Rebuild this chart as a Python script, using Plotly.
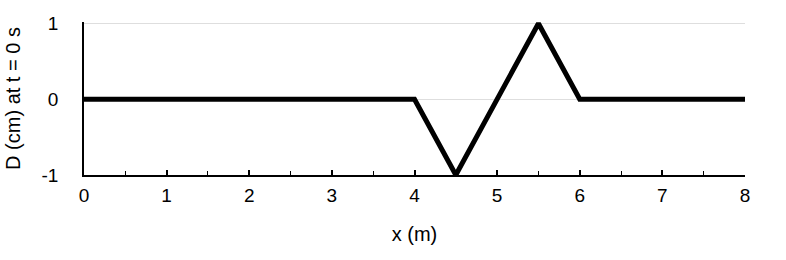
import plotly.graph_objects as go

x_m = [0, 4, 4.5, 5.5, 6, 8]
d_cm = [0, 0, -1, 1, 0, 0]
x_ticks = [0, 1, 2, 3, 4, 5, 6, 7, 8]
y_ticks = [-1, 0, 1]

fig = go.Figure()
fig.add_trace(go.Scatter(x=x_m, y=d_cm, mode="lines",
                         line=dict(color="black", width=5), cliponaxis=False))

tick_font = dict(family="Liberation Sans, Arial, sans-serif", size=19, color="black")
title_font = dict(family="Liberation Sans, Arial, sans-serif", size=20, color="black")
fig.update_layout(
    width=786, height=260,
    margin=dict(l=82, r=41, t=22, b=85),
    plot_bgcolor="white", paper_bgcolor="white",
    showlegend=False,
    font=tick_font,
)
fig.update_xaxes(
    range=[0, 8], tickvals=x_ticks, ticktext=[str(v) for v in x_ticks],
    tickfont=tick_font,
    showline=True, linecolor="black", linewidth=1.5,
    ticks="inside", ticklen=5, tickwidth=1.5, tickcolor="black",
    minor=dict(ticks="inside", ticklen=4, tickwidth=1.2, tickcolor="black", dtick=0.5, tick0=0),
    showgrid=False, zeroline=False,
    ticklabelstandoff=2,
    title=dict(text="x (m)", standoff=22, font=title_font),
)
fig.update_yaxes(
    range=[-1, 1.02], tickvals=y_ticks, ticktext=[str(v) for v in y_ticks],
    tickfont=tick_font,
    showline=True, linecolor="black", linewidth=1.5,
    ticks="", showgrid=True, gridcolor="#dedede", gridwidth=1,
    zeroline=False,
    ticklabelstandoff=20,
    title=dict(text="D (cm) at t = 0 s", standoff=16, font=title_font),
)
fig.write_html("out.html")
